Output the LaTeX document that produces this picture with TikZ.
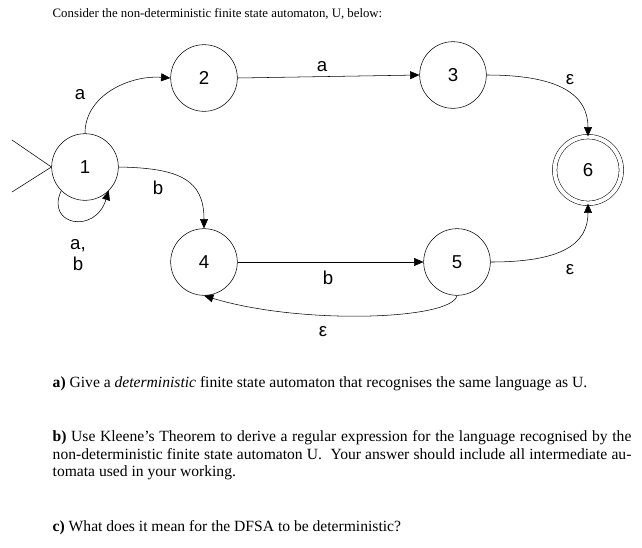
\documentclass[tikz,border=0pt]{standalone}
\usepackage{fontspec}
\setmainfont{Liberation Serif}
\newfontfamily\lab{Liberation Sans}
\usetikzlibrary{arrows.meta}
\tikzset{
  st/.style={circle,draw,minimum size=50pt,inner sep=0pt,font=\lab\fontsize{14}{16}\selectfont},
  lbl/.style={font=\lab\fontsize{14}{16}\selectfont},
  tr/.style={-{Triangle[length=7pt,width=6pt]}},
  txt/.style={anchor=north west,font=\fontsize{11.7}{13}\selectfont,align=left}
}
\begin{document}
\begin{tikzpicture}[x=0.75pt,y=-0.75pt]
\useasboundingbox (0,0) rectangle (642,547);
\node[txt,font=\fontsize{9.6}{11}\selectfont] (q) at (48,4) {Consider the non-deterministic finite state automaton, U, below:};

\node[st] (s1) at (85,167) {1};
\node[st] (s2) at (204,78) {2};
\node[st] (s3) at (453,75) {3};
\node[st,double,double distance=3pt] (s6) at (588,170) {6};
\node[st] (s4) at (204,262) {4};
\node[st] (s5) at (457,262) {5};

% start marker
\coordinate (st1) at (12,140);
\coordinate (st2) at (12,192);
\draw (st1) -- (s1.west) -- (st2);

% transitions
\draw[tr] (s1.north) .. controls (85,95) and (130,75) .. (s2.west);
\node[lbl] (la1) at (80,95) {a};
\draw[tr] (s2.east) -- (s3.west);
\node[lbl] (la2) at (322,67) {a};
\draw[tr] (s3.east) .. controls (560,75) and (588,95) .. (s6.north);
\node[lbl] (le1) at (570,80) {ε};
\draw[tr] (s1.east) .. controls (180,168) and (204,180) .. (s4.north);
\node[lbl] (lb1) at (158,188) {b};
\draw[tr] (s4.east) -- (s5.west);
\node[lbl] (lb2) at (328,278) {b};
\draw[tr] (s5.south) .. controls (452,320) and (300,325) .. (s4.south);
\node[lbl] (le2) at (323,332) {ε};
\draw[tr] (s5.east) .. controls (560,262) and (588,245) .. (s6.south);
\node[lbl] (le3) at (570,270) {ε};
\draw[tr] (s1.south west) .. controls (45,225) and (95,235) .. (s1.south east);
\node[lbl,align=center] (lab1) at (78,255) {a,\\b};

\node[txt] (pa) at (48,372) {\textbf{a)} Give a \textit{deterministic} finite state automaton that recognises the same language as U.};
\node[txt,text width=434pt,align=justify] (pb) at (48,426) {\hyphenpenalty=10000\textbf{b)} Use Kleene's Theorem to derive a regular expression for the language recognised by the non-deterministic finite state automaton U.\ \ Your answer should include all intermediate automata used in your working.};
\node[txt] (pc) at (48,516) {\textbf{c)} What does it mean for the DFSA to be deterministic?};
\end{tikzpicture}
\end{document}
